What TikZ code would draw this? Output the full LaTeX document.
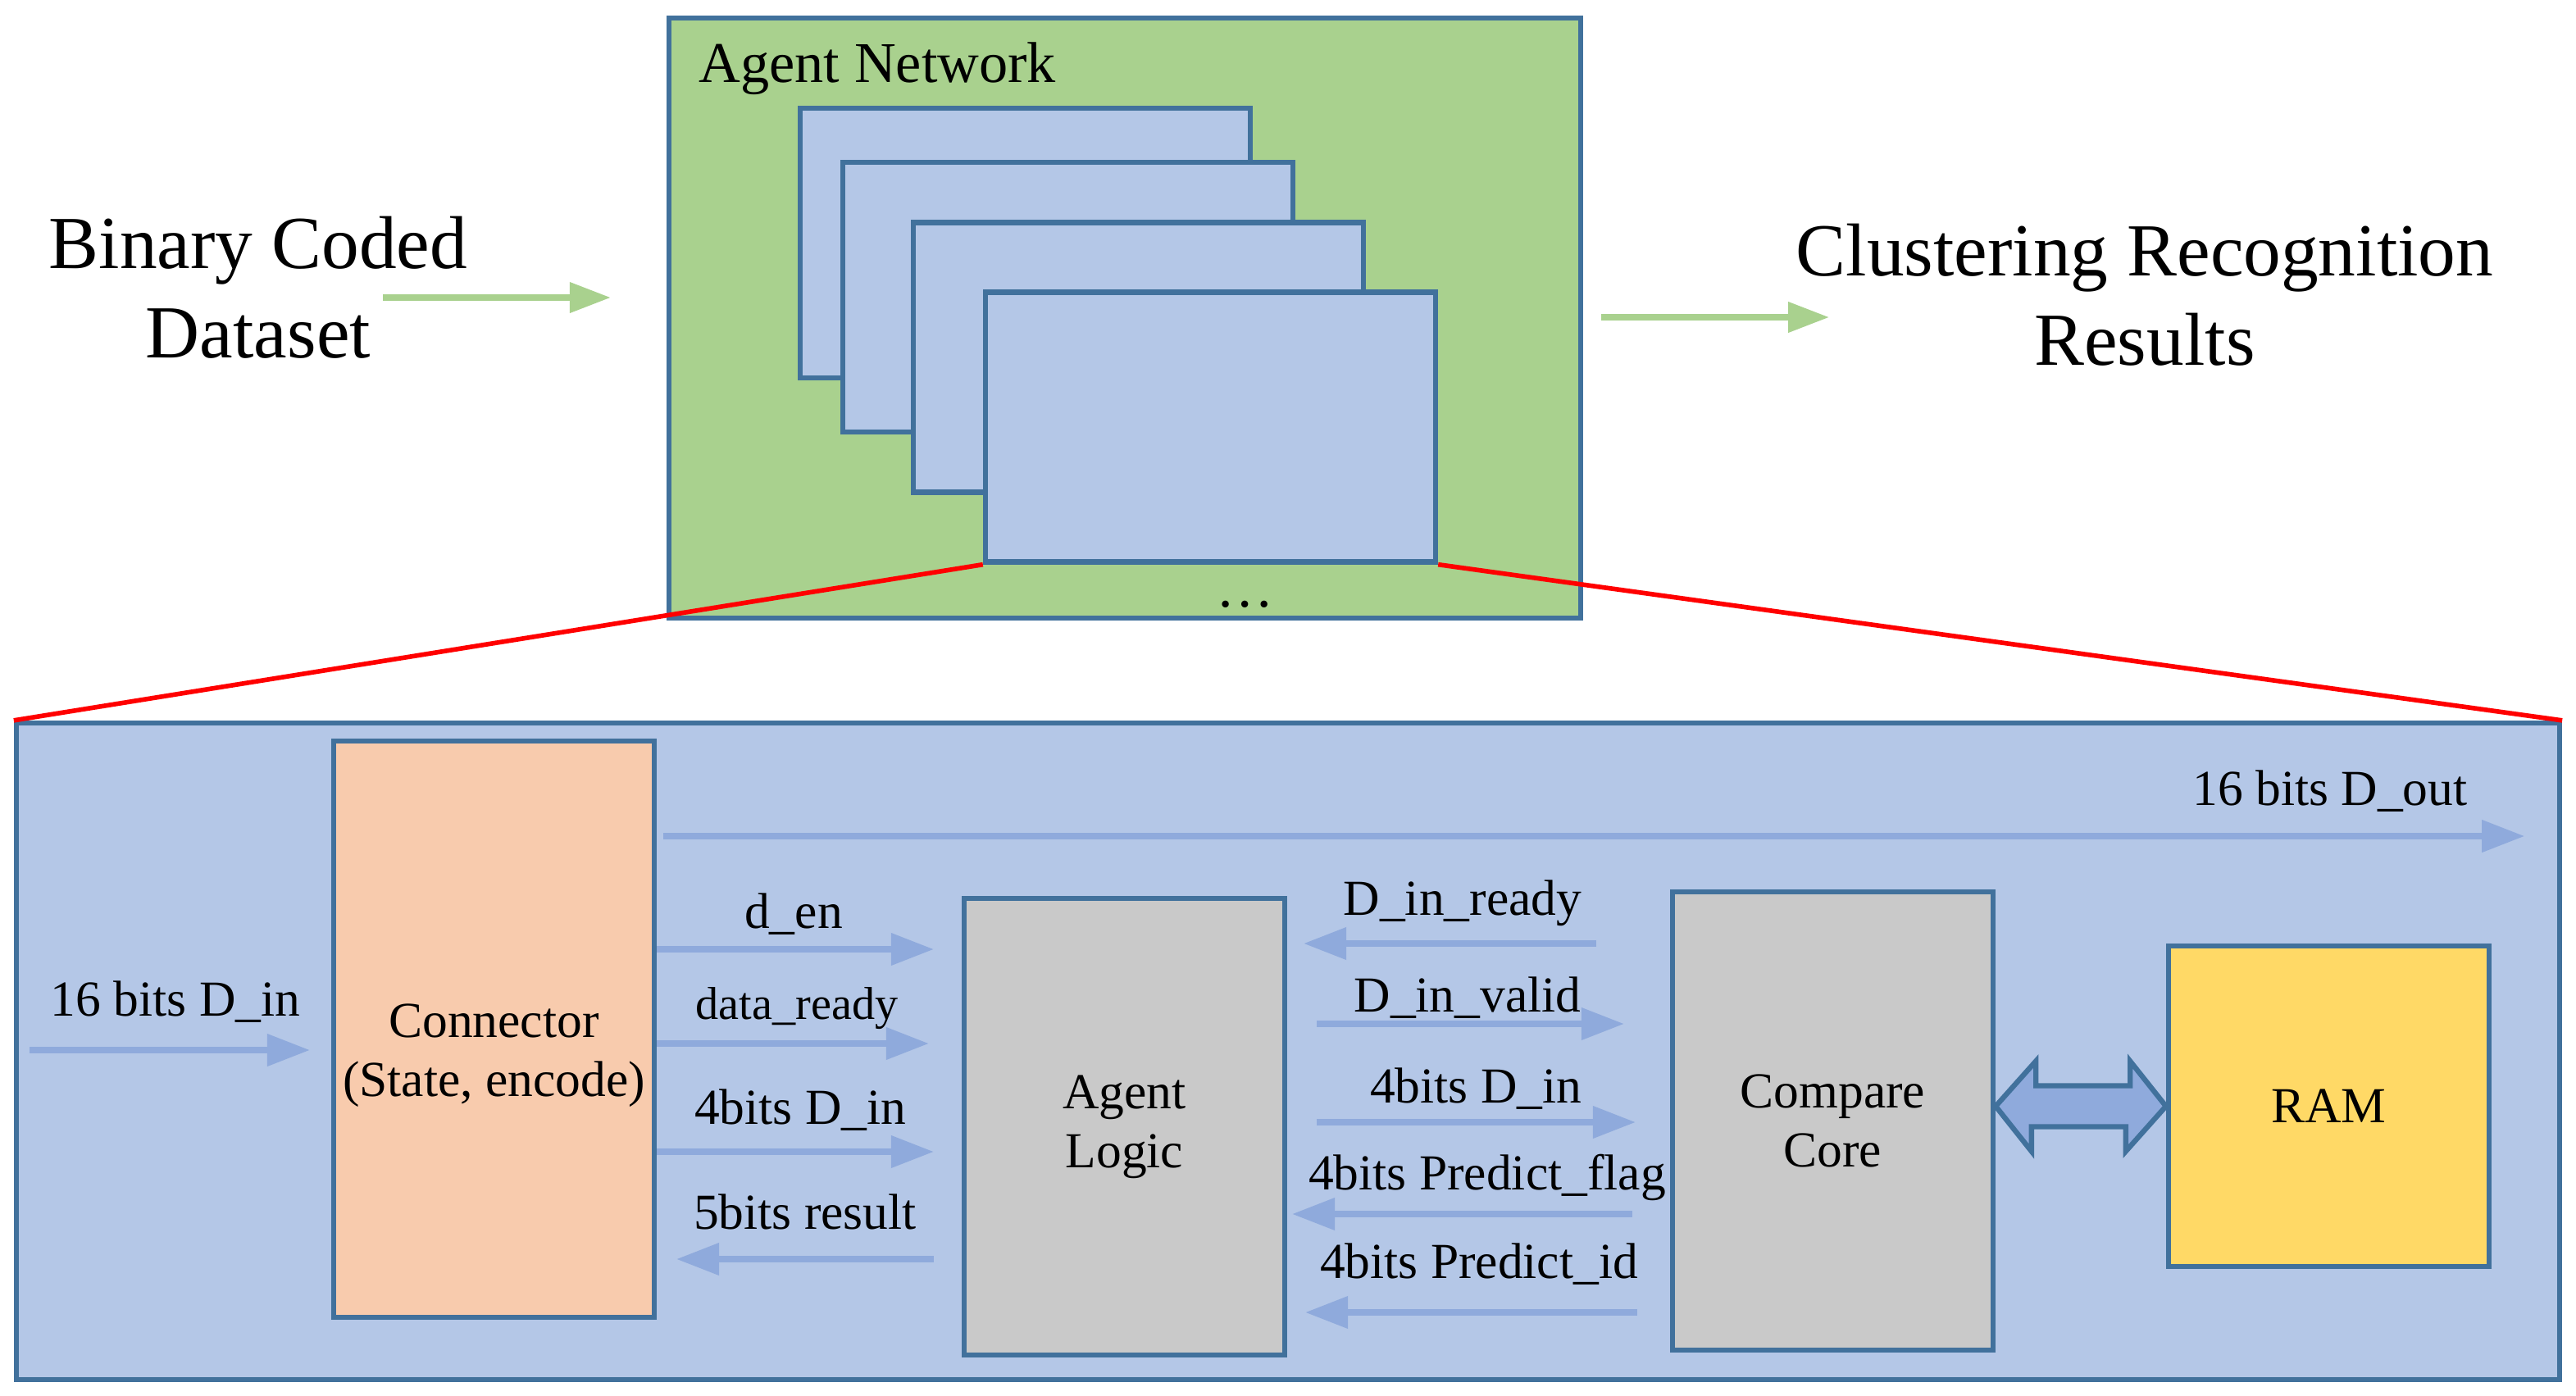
\documentclass[tikz,border=0pt]{standalone}
\usepackage{fontspec}
\setmainfont{Liberation Serif}
\usetikzlibrary{arrows.meta, positioning, calc}

\definecolor{bordr}{HTML}{41719C}
\definecolor{bluefill}{HTML}{B4C7E7}
\definecolor{grnfill}{HTML}{A9D18E}
\definecolor{peach}{HTML}{F8CBAD}
\definecolor{grayfill}{HTML}{C9C9C9}
\definecolor{ramfill}{HTML}{FFD966}
\definecolor{sigblue}{HTML}{8FAADC}

\newcommand{\bigfont}{\fontsize{26}{31}\selectfont}
\newcommand{\netfont}{\fontsize{20}{24}\selectfont}
\newcommand{\sigfont}{\fontsize{17.5}{20.5}\selectfont}
\newcommand{\smlfont}{\fontsize{16}{19}\selectfont}

\begin{document}
\begin{tikzpicture}[
    blk/.style={draw=bordr, line width=1.8pt, minimum width=3.91cm, align=center, font=\sigfont, inner sep=0pt},
    pe/.style={draw=bordr, fill=bluefill, line width=1.8pt, minimum width=5.49cm, minimum height=3.29cm, inner sep=0pt},
    sig/.style={draw=sigblue, line width=2.1pt, -{Triangle[length=0.52cm, width=0.38cm]}},
    feed/.style={draw=grnfill, line width=2.1pt, -{Triangle[length=0.5cm, width=0.36cm]}},
    lbl/.style={anchor=base, font=\sigfont, inner sep=0pt}]
    \useasboundingbox (0,0) rectangle (31.42,-17.02);

    % agent network on top
    \node[draw=bordr, fill=grnfill, line width=1.8pt, minimum width=11.12cm, minimum height=7.32cm] (net) at (13.72,-3.88) {};
    \node[anchor=west, font=\netfont, inner sep=0pt] (netlbl) at (8.52,-0.84) {Agent Network};
    \node[pe] (pe1) at (12.505,-2.965) {};
    \node[pe] (pe2) at (13.025,-3.625) {};
    \node[pe] (pe3) at (13.885,-4.36) {};
    \node[pe] (pe4) at (14.765,-5.21) {};
    \node[anchor=base, font=\netfont, inner sep=0pt] (dots) at (15.19,-7.40) {…};

    \node[font=\bigfont, align=center] (bcd) at (3.15,-3.505) {Binary Coded\\Dataset};
    \node[font=\bigfont, align=center] (crr) at (26.16,-3.595) {Clustering Recognition\\Results};
    \coordinate (in-s) at (4.67,-3.63);
    \coordinate (out-e) at (22.31,-3.87);
    \draw[feed, shorten >=0.68cm] (in-s) -- (net.west |- in-s);
    \draw[feed, shorten <=0.22cm] (net.east |- out-e) -- (out-e);

    % one agent
    \node[draw=bordr, fill=bluefill, line width=1.8pt, minimum width=31.02cm, minimum height=8.01cm] (agent) at (15.71,-12.825) {};
    \draw[red, line width=1.6pt] (pe4.south west) -- (agent.north west);
    \draw[red, line width=1.6pt] (pe4.south east) -- (agent.north east);

    \node[blk, fill=peach, minimum height=7.03cm,
        label={[name=conlbl, font=\sigfont, align=center, yshift=-0.32cm]center:{Connector\\(State, encode)}}] (con) at (6.025,-12.555) {};
    \node[blk, fill=grayfill, minimum height=5.57cm] (al) at (13.715,-13.745) {Agent\\Logic};
    \node[blk, fill=grayfill, minimum height=5.59cm] (cmp) at (22.355,-13.675) {Compare\\Core};
    \node[blk, fill=ramfill, minimum height=3.91cm] (ram) at (28.405,-13.495) {RAM};

    % signals
    \coordinate (din16-s) at (0.36,-12.81);
    \draw[sig, shorten >=0.26cm] (din16-s) -- (con.west |- din16-s);
    \node[lbl] (l-din16) at (2.14,-12.39) {16 bits D\_in};
    \draw[sig, shorten <=0.08cm, shorten >=0.46cm] (con.east |- 0,-10.20) -- (agent.east |- 0,-10.20);
    \node[lbl] (l-dout16) at (28.42,-9.82) {16 bits D\_out};

    \draw[sig, shorten >=0.34cm] (con.east |- 0,-11.58) -- (al.west |- 0,-11.58);
    \node[lbl] (l-den) at (9.68,-11.32) {d\_en};
    \draw[sig, shorten >=0.40cm] (con.east |- 0,-12.73) -- (al.west |- 0,-12.73);
    \node[lbl, font=\smlfont] (l-drdy) at (9.72,-12.43) {data\_ready};
    \draw[sig, shorten >=0.34cm] (con.east |- 0,-14.05) -- (al.west |- 0,-14.05);
    \node[lbl] (l-din4a) at (9.76,-13.71) {4bits D\_in};
    \draw[sig, shorten <=0.34cm, shorten >=0.24cm] (al.west |- 0,-15.36) -- (con.east |- 0,-15.36);
    \node[lbl] (l-res) at (9.82,-14.99) {5bits result};

    \draw[sig, shorten <=0.90cm, shorten >=0.20cm] (cmp.west |- 0,-11.51) -- (al.east |- 0,-11.51);
    \node[lbl] (l-rdy) at (17.84,-11.16) {D\_in\_ready};
    \draw[sig, shorten <=0.36cm, shorten >=0.56cm] (al.east |- 0,-12.49) -- (cmp.west |- 0,-12.49);
    \node[lbl] (l-vld) at (17.90,-12.34) {D\_in\_valid};
    \draw[sig, shorten <=0.36cm, shorten >=0.42cm] (al.east |- 0,-13.69) -- (cmp.west |- 0,-13.69);
    \node[lbl] (l-din4b) at (18.00,-13.45) {4bits D\_in};
    \draw[sig, shorten <=0.46cm, shorten >=0.06cm] (cmp.west |- 0,-14.81) -- (al.east |- 0,-14.81);
    \node[lbl] (l-flag) at (18.14,-14.51) {4bits Predict\_flag};
    \draw[sig, shorten <=0.40cm, shorten >=0.22cm] (cmp.west |- 0,-16.01) -- (al.east |- 0,-16.01);
    \node[lbl] (l-pid) at (18.04,-15.59) {4bits Predict\_id};

    % memory bus
    \draw[draw=bordr, fill=sigblue, line width=1.8pt] (cmp.east |- ram.west) -- ++(0.49,0.55) -- ++(0,-0.30) -- ++(1.15,0) -- ++(0,0.30)
        -- (ram.west) -- ++(-0.49,-0.55) -- ++(0,0.30) -- ++(-1.15,0) -- ++(0,-0.30) -- cycle;
\end{tikzpicture}
\end{document}
